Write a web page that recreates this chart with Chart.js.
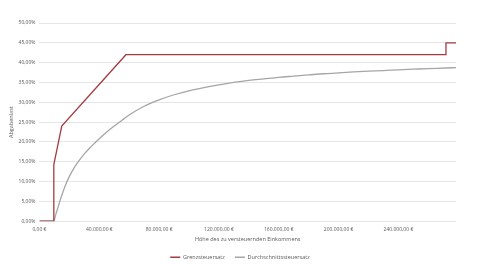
<!DOCTYPE html>
<html>
<head>
<meta charset="utf-8">
<script src="https://cdn.jsdelivr.net/npm/chart.js@4"></script>
<style>
html,body{margin:0;padding:0;background:#fff;}
#wrap{width:480px;height:264px;position:relative;}
</style>
</head>
<body>
<div id="wrap"><canvas id="c" width="480" height="264"></canvas></div>
<script>
// Income (€) and rates (%)
const seriesNames = ["Grenzsteuersatz", "Durchschnittssteuersatz"];
const marginalIncome = [0, 9600, 9600, 14900, 57800, 271800, 271800, 278500];
const marginalRate   = [0, 0, 14.3, 24.0, 42.0, 42.0, 45.0, 45.0];
const averageIncome = [0, 9600, 10000, 11000, 12000, 13500, 14900, 17500, 20000, 22500, 25000, 30000, 35000, 40000, 45000, 50000, 55000, 57800, 60000, 70000, 80000, 90000, 100000, 110000, 120000, 130000, 140000, 150000, 160000, 170000, 180000, 190000, 200000, 210000, 220000, 230000, 240000, 250000, 260000, 271800, 278500];
const averageRate   = [0, 0, 0.4, 1.8, 3.0, 4.9, 6.5, 9.2, 11.3, 13.0, 14.5, 17.0, 19.0, 20.8, 22.5, 24.0, 25.4, 26.2, 26.8, 29.0, 30.6, 31.9, 32.9, 33.7, 34.4, 35.0, 35.5, 35.9, 36.3, 36.6, 36.9, 37.2, 37.4, 37.65, 37.85, 38.0, 38.2, 38.35, 38.5, 38.65, 38.75];
const xTicks = [0, 40000, 80000, 120000, 160000, 200000, 240000];
const yTicks = [0, 5, 10, 15, 20, 25, 30, 35, 40, 45, 50];
const xTitle = "Höhe des zu versteuernden Einkommens";
const yTitle = "Abgabenlast";

function toPoints(xs, ys){ return xs.map((x,i)=>({x:x, y:ys[i]})); }
function fmtEuro(v){
  const s = Math.round(v).toString().replace(/\B(?=(\d{3})+(?!\d))/g, ".");
  return s + ",00 €";
}
function fmtPct(v){ return v.toFixed(2).replace(".", ",") + "%"; }

const FONT = "'Open Sans', 'Liberation Sans', sans-serif";
const textColor = "#595959";

// nudge legend to be centred on the canvas like the reference
const legendNudge = {
  id: "legendNudge",
  afterLayout(chart){
    const lg = chart.legend;
    if (lg) { const d = 240 - (lg.left + lg.right) / 2; lg.left += d; lg.right += d; }
  }
};

new Chart(document.getElementById("c"), {
  type: "scatter",
  data: {
    datasets: [
      { label: seriesNames[0], data: toPoints(marginalIncome, marginalRate), showLine: true,
        borderColor: "#A33B3F", backgroundColor: "#A33B3F", borderWidth: 1.3, pointRadius: 0, tension: 0 },
      { label: seriesNames[1], data: toPoints(averageIncome, averageRate), showLine: true,
        borderColor: "#A6A6A6", backgroundColor: "#A6A6A6", borderWidth: 1.3, pointRadius: 0, cubicInterpolationMode: "monotone" }
    ]
  },
  plugins: [legendNudge],
  options: {
    responsive: false,
    animation: false,
    layout: { padding: { left: 8, right: 24, top: 23, bottom: -6 } },
    plugins: {
      legend: {
        position: "bottom",
        fullSize: false,
        labels: {
          font: { family: FONT, size: 5.5 }, color: textColor,
          usePointStyle: true, pointStyle: "line", boxWidth: 10, pointStyleWidth: 10, boxHeight: 5, padding: 10
        }
      },
      tooltip: { enabled: false }
    },
    scales: {
      x: {
        type: "linear", min: 0, max: marginalIncome[marginalIncome.length-1],
        afterBuildTicks: (axis) => { axis.ticks = xTicks.map(v => ({value: v})); },
        ticks: { font: { family: FONT, size: 5 }, color: textColor, maxRotation: 0, padding: 5, callback: (v) => fmtEuro(v) },
        grid: { display: false, drawTicks: false },
        border: { display: false },
        title: { display: true, text: xTitle, font: { family: FONT, size: 5.5 }, color: textColor, padding: { top: -1.3, bottom: 2 } }
      },
      y: {
        min: 0, max: 50,
        afterBuildTicks: (axis) => { axis.ticks = yTicks.map(v => ({value: v})); },
        ticks: { font: { family: FONT, size: 5 }, color: textColor, padding: 4, callback: (v) => fmtPct(v) },
        grid: { color: "#E6E6E6", lineWidth: 1, drawTicks: false },
        border: { display: false },
        title: { display: true, text: yTitle, font: { family: FONT, size: 5.5 }, color: textColor, padding: { top: 0, bottom: 0 } }
      }
    }
  }
});
</script>
</body>
</html>
